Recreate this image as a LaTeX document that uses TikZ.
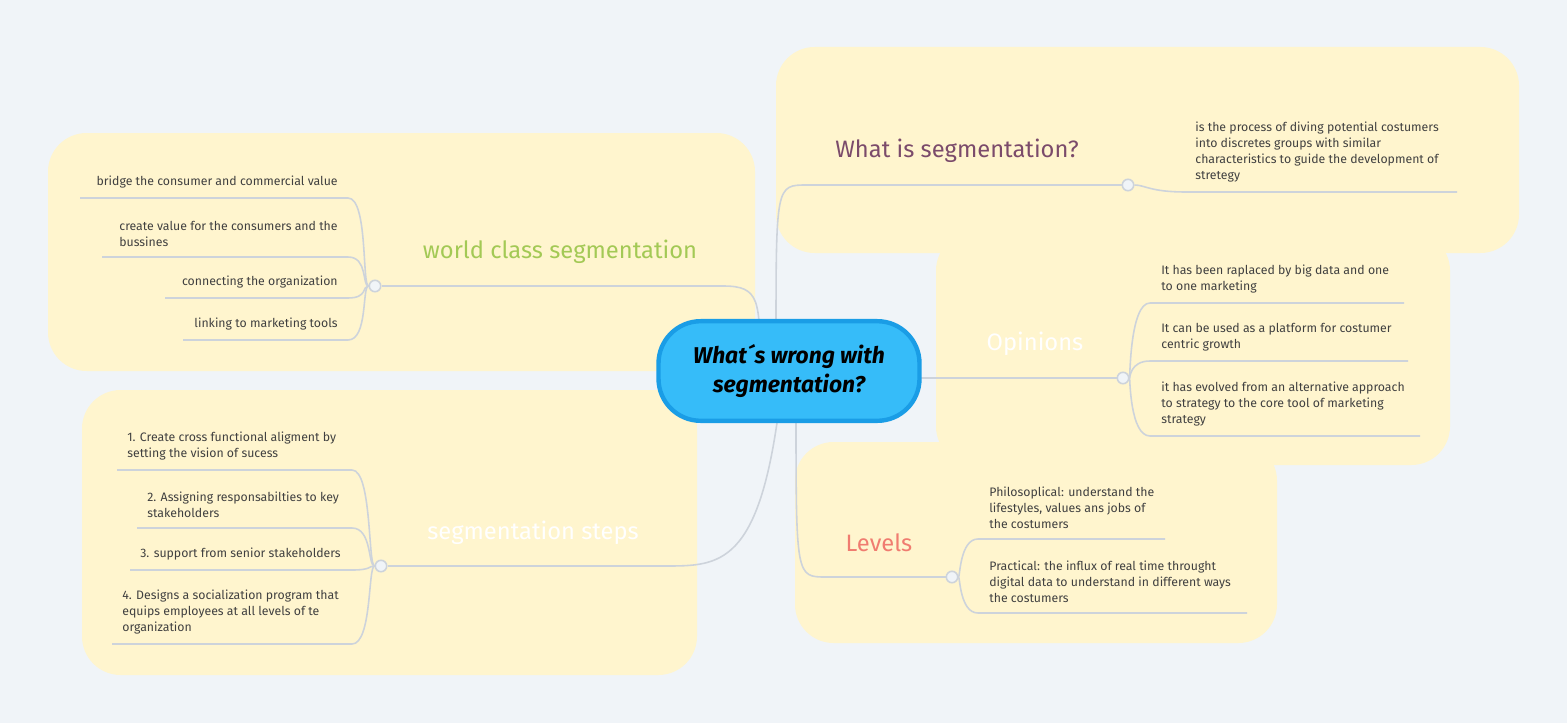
\documentclass[tikz,border=0pt]{standalone}
\usepackage{fontspec}
\setmainfont{Fira Sans}
\usetikzlibrary{positioning}
\definecolor{bg}{HTML}{F0F4F8}
\definecolor{pad}{HTML}{FFF5CE}
\definecolor{wire}{HTML}{CDD3DB}
\definecolor{centerfill}{HTML}{36BCF9}
\definecolor{centerline}{HTML}{1A9DE6}
\definecolor{greentitle}{HTML}{A3C955}
\definecolor{plumtitle}{HTML}{7B4B6B}
\definecolor{redtitle}{HTML}{F07C70}
\tikzset{
  padbox/.style={fill=pad, rounded corners=22pt},
  leaf/.style={font=\fontsize{7}{9}\selectfont, text=black!75, align=left, inner sep=0pt},
  title/.style={font=\fontsize{13.5}{16}\selectfont, inner sep=0pt},
  wireline/.style={draw=wire, line width=0.9pt},
  knob/.style={circle, draw=wire, fill=bg, line width=0.9pt, inner sep=0pt, minimum size=6.5pt}
}
\begin{document}
\begin{tikzpicture}[x=0.02cm, y=-0.02cm]
  \fill[bg] (0,0) rectangle (1567,723);
  % background pads
  \fill[padbox] (48,133) rectangle (755,371);
  \fill[padbox] (82,390) rectangle (697,675);
  \fill[padbox] (776,47) rectangle (1519,253);
  \fill[padbox] (936,232) rectangle (1450,465);
  \fill[padbox] (795,442) rectangle (1277,643);
  % trunk connectors
  \draw[wireline] (760,371) .. controls (760,300) and (760,286) .. (723,286);
  \draw[wireline] (780,400) .. controls (760,566) and (720,566) .. (665,566);
  \draw[wireline] (776,340) .. controls (776,185) and (776,185) .. (807,185);
  \draw[wireline] (900,378) -- (968,378);
  \draw[wireline] (796,410) .. controls (796,577) and (796,577) .. (826,577);
  % center
  \node[draw=centerline, line width=2.5pt, fill=centerfill, rounded corners=24pt,
        minimum width=262pt*0.567, minimum height=100pt*0.567, align=center,
        font=\fontsize{13}{16}\selectfont\bfseries\itshape] (hub) at (789,371)
        {What´s wrong with\\segmentation?};
  % world class segmentation
  \node[title, text=greentitle] (wcs) at (560,252) {world class segmentation};
  \node[knob] (wcsk) at (375,286) {};
  \draw[wireline] (wcsk) -- (723,286);
  \foreach \yy/\xs/\txt [count=\i] in {198/80/{bridge the consumer and commercial value},
      257/102/{create value for the consumers and the\\bussines},
      298/165/{connecting the organization},
      340/183/{linking to marketing tools}}{
    \node[leaf, anchor=south east] (wcs\i) at (338,\yy-10) {\txt};
    \draw[wireline] (\xs,\yy) -- (348,\yy) .. controls (368,\yy) and (362,286) .. (wcsk);
  }
  % segmentation steps
  \node[title, text=white] (steps) at (533,533) {segmentation steps};
  \node[knob] (stepsk) at (381,566) {};
  \draw[wireline] (stepsk) -- (665,566);
  \foreach \yy/\xs/\txt [count=\i] in {470/117/{1. Create cross functional aligment by\\setting the vision of sucess},
      528/137/{2. Assigning responsabilties to key\\stakeholders},
      570/130/{3. support from senior stakeholders},
      644/112/{4. Designs a socialization program that\\equips employees at all levels of te\\organization}}{
    \node[leaf, anchor=south west] (steps\i) at (\xs+10,\yy-10) {\txt};
    \draw[wireline] (\xs,\yy) -- (352,\yy) .. controls (372,\yy) and (368,566) .. (stepsk);
  }
  % what is segmentation
  \node[title, text=plumtitle] (what) at (957,151) {What is segmentation?};
  \node[knob] (whatk) at (1128,185) {};
  \draw[wireline] (807,185) -- (whatk);
  \draw[wireline] (whatk) .. controls (1145,185) and (1150,192) .. (1186,192) -- (1457,192);
  \node[leaf, anchor=south west] (what1) at (1195,182)
    {is the process of diving potential costumers\\into discretes groups with similar\\characteristics to guide the development of\\stretegy};
  % opinions
  \node[title, text=white] (opin) at (1035,344) {Opinions};
  \node[knob] (opink) at (1123,378) {};
  \draw[wireline] (968,378) -- (opink);
  \foreach \yy/\xe/\txt [count=\i] in {303/1404/{It has been raplaced by big data and one\\to one marketing},
      361/1408/{It can be used as a platform for costumer\\centric growth},
      436/1420/{it has evolved from an alternative approach\\to strategy to the core tool of marketing\\strategy}}{
    \node[leaf, anchor=south west] (opin\i) at (1161,\yy-10) {\txt};
    \draw[wireline] (opink) .. controls (1130,378) and (1130,\yy) .. (1150,\yy) -- (\xe,\yy);
  }
  % levels
  \node[title, text=redtitle] (lev) at (879,543) {Levels};
  \node[knob] (levk) at (952,577) {};
  \draw[wireline] (826,577) -- (levk);
  \foreach \yy/\xe/\txt [count=\i] in {539/1165/{Philosoplical: understand the\\lifestyles, values ans jobs of\\the costumers},
      613/1247/{Practical: the influx of real time throught\\digital data to understand in different ways\\the costumers}}{
    \node[leaf, anchor=south west] (lev\i) at (989,\yy-10) {\txt};
    \draw[wireline] (levk) .. controls (960,577) and (960,\yy) .. (978,\yy) -- (\xe,\yy);
  }
\end{tikzpicture}
\end{document}
